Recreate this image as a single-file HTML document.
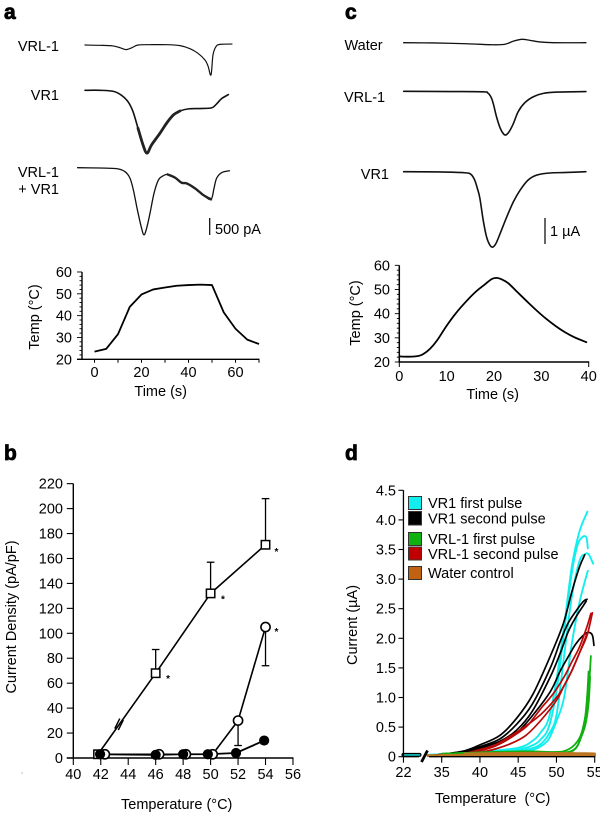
<!DOCTYPE html>
<html lang="en">
<head>
<meta charset="utf-8">
<title>VRL-1 and VR1 heat-evoked currents</title>
<style>
html,body{margin:0;padding:0;background:#fff;}
body{width:600px;height:816px;overflow:hidden;position:relative;}
svg{position:absolute;left:0;top:0;display:block;}
text{font-family:"Liberation Sans",Arial,sans-serif;font-size:14.5px;fill:#000;}
.letter{font-size:21px;font-weight:bold;stroke:#000;stroke-width:.8px;fill:#000;}
</style>
</head>
<body>
<svg id="figure" width="600" height="816" viewBox="0 0 600 816" xmlns="http://www.w3.org/2000/svg">
  <text class="letter" x="4" y="19">a</text>
  <text class="letter" x="345" y="19">c</text>
  <text class="letter" x="4" y="460">b</text>
  <text class="letter" x="345" y="460">d</text>

  <text x="59" y="51" text-anchor="end">VRL-1</text>
  <text x="59" y="100" text-anchor="end">VR1</text>
  <text x="59" y="177" text-anchor="end">VRL-1</text>
  <text x="59" y="194" text-anchor="end">+ VR1</text>
  <line x1="209.7" x2="209.7" y1="218" y2="235" stroke="#000" stroke-width="1.2"/>
  <text x="215" y="234">500 pA</text>

  <text x="344.5" y="50">Water</text>
  <text x="344" y="102">VRL-1</text>
  <text x="389" y="179" text-anchor="end">VR1</text>
  <line x1="545" x2="545" y1="218" y2="244" stroke="#000" stroke-width="1.2"/>
  <text x="550" y="236">1 µA</text>

  <text transform="translate(39,317) rotate(-90)" text-anchor="middle">Temp (°C)</text>
  <text x="160.7" y="396" text-anchor="middle">Time (s)</text>
  <text transform="translate(360,313) rotate(-90)" text-anchor="middle">Temp (°C)</text>
  <text x="492.7" y="399" text-anchor="middle">Time (s)</text>
  <text transform="translate(16,617) rotate(-90)" text-anchor="middle">Current Density (pA/pF)</text>
  <text x="176.7" y="809" text-anchor="middle">Temperature (°C)</text>
  <text transform="translate(357,625) rotate(-90)" text-anchor="middle">Current (µA)</text>
  <text x="492.7" y="803" text-anchor="middle" xml:space="preserve">Temperature  (°C)</text>
  <rect x="21.5" y="772.5" width="1.2" height="1" fill="#999"/>

  <g>
    <rect x="408.5" y="496.5" width="13" height="13" fill="#12eeee" stroke="#333"/>
    <rect x="408.5" y="511.5" width="13" height="13.5" fill="#000" stroke="#333"/>
    <rect x="408.5" y="532.5" width="13" height="13" fill="#10b010" stroke="#333"/>
    <rect x="408.5" y="547" width="13" height="13" fill="#c00000" stroke="#333"/>
    <rect x="408.5" y="566.5" width="13" height="13" fill="#c0620f" stroke="#333"/>
    <text x="428" y="508">VR1 first pulse</text>
    <text x="428" y="523.5">VR1 second pulse</text>
    <text x="428" y="544">VRL-1 first pulse</text>
    <text x="428" y="559">VRL-1 second pulse</text>
    <text x="428" y="578">Water control</text>
  </g>
</svg>
<script>
// ---------- Panel a: whole-cell traces [time s, current pA]
const aTraceVrl1 = [[0,0],[7.5,-10],[14,-30],[17.5,-85],[20.5,-145],[23.5,-85],[26.5,0],[32.5,10],[41,10],[47.5,-20],[52.5,-115],[56.5,-260],[60,-470],[61.5,-655],[63,-935],[64,-310],[65.5,-50],[67.5,20],[73.5,30]];
const aTraceVr1 = [[0,0],[7.5,0],[14,-30],[18,-145],[21.5,-355],[24,-665],[26.5,-1185],[29,-1705],[31,-1965],[33.3,-1705],[37.5,-1340],[41,-1010],[44.2,-770],[47.5,-645],[51.7,-580],[57.5,-570],[63.3,-550],[65.8,-425],[68.3,-260],[71.7,-135]];
const aTraceBoth = [[-3.7,0],[7.5,-10],[15.8,-30],[20,-125],[22.5,-330],[24.2,-700],[26.2,-1320],[28.3,-1895],[29.5,-2100],[30.8,-1895],[32.5,-1425],[34.5,-800],[36.7,-385],[39.2,-250],[41.3,-210],[45,-310],[48.3,-470],[50.8,-490],[55,-645],[59.2,-855],[63,-990],[64.5,-645],[65.8,-330],[68.3,-155],[72.2,-95]];
// Panel a: temperature ramp
const aTempTime = [0,5,10,15,20,25,30,35,40,45,50,55,60,65,70];
const aTempValues = [23.5,24.8,31.5,44,49.7,52,52.9,53.7,54,54.2,54,41.5,34,29,27];
const aTempXTicks = [0,20,40,60];
const aTempYTicks = [20,30,40,50,60];

// ---------- Panel c: oocyte traces [time s, current uA]
const cTraceWater = [[0,0],[6.3,-0.01],[13.3,-0.04],[19,-0.08],[21.4,-0.06],[23.2,0.06],[25,0.13],[26.7,0.09],[28.8,0.03],[31.6,0],[38.5,0]];
const cTraceVrl1 = [[0,0],[9.8,-0.01],[16.8,-0.02],[17.8,-0.07],[18.5,-0.24],[19,-0.52],[19.6,-0.97],[20.4,-1.42],[21.1,-1.64],[21.6,-1.68],[22.3,-1.55],[23.2,-1.23],[24.2,-0.78],[25.6,-0.44],[27.4,-0.21],[29.5,-0.08],[32.4,-0.03],[38.5,-0.01]];
const cTraceVr1 = [[0,0],[7.7,-0.01],[12.8,-0.04],[14.2,-0.1],[15,-0.32],[15.6,-0.66],[16.1,-1.02],[16.8,-1.86],[17.5,-2.5],[18.2,-2.82],[18.8,-2.9],[19.5,-2.76],[20.4,-2.37],[21.8,-1.73],[23.2,-1.15],[24.6,-0.71],[26.3,-0.32],[28.1,-0.13],[30.9,-0.05],[34.4,-0.03],[38.5,0]];
// Panel c: temperature ramp
const cTempTime = [0,2,4,5,6.5,8,10,12,14,16,18,19.5,20.5,21.5,23,25,27,29,31,33,35,37,39.5];
const cTempValues = [22.3,22.2,22.5,23.2,25.5,29,35,40.3,44.8,48.8,52,54.3,54.8,54.3,52.6,48.8,45,41.3,37.9,34.9,32.3,30.2,28.2];
const cTempXTicks = [0,10,20,30,40];
const cTempYTicks = [20,30,40,50,60];

// ---------- Panel b: current density
const bXTicks = [40,42,44,46,48,50,52,54,56];
const bYTicks = [0,20,40,60,80,100,120,140,160,180,200,220];
const squareTemps = [41.8,46,50,54];
const squareValues = [3,68,132,171];
const squareErrorTops = [3,87,157,208];
const openTemps = [42.3,46.25,48.2,50.15,52,54];
const openValues = [3,3,3,3,30,105];
const openErrorBottoms = [3,3,3,3,10,74];
const filledTemps = [41.95,46,48,49.8,51.85,53.9];
const filledValues = [3,2.5,3,3,4,14];
const starTemps = [46.9,50.9,54.8,54.8];
const starValues = [64,128,166,102];

// ---------- Panel d: current vs temperature [temp C, current uA]
const dXTickValues = [30,35,40,45,50,55];
const dXTickLabels = ['22','35','40','45','50','55'];
const dYTicks = [0,0.5,1,1.5,2,2.5,3,3.5,4,4.5];
const dYTickLabels = ['0','0.5','1.0','1.5','2.0','2.5','3.0','3.5','4.0','4.5'];
const vr1First1 = [[33.2,.03],[35,.04],[40,.08],[45,.15],[47,.28],[48,.42],[49,.65],[50,1.3],[51,2.2],[52,3.2],[53,3.8],[54.05,4.14]];
const vr1First2 = [[33.2,.03],[35,.04],[40,.07],[45,.12],[47,.2],[48,.3],[49,.5],[50,1.1],[51,2.1],[52,3.1],[52.7,3.55],[53.3,3.7],[53.9,3.71],[54.1,3.52]];
const vr1First3 = [[33.2,.03],[35,.04],[40,.06],[45,.1],[47,.15],[48,.22],[49,.38],[50,.7],[51,1.7],[52,2.7],[53,3.3],[53.7,3.42],[54.2,3.42],[54.8,3.26]];
const vr1First4 = [[33.2,.03],[35,.03],[40,.05],[45,.08],[47,.12],[48,.18],[49,.3],[50,.6],[51,1],[52,1.9],[53,2.6],[54.1,3.14]];
const vr1Second1 = [[33.2,.01],[35,.04],[38,.1],[40,.2],[42.6,.36],[44.8,.65],[46.9,1.05],[49.2,1.7],[50.9,2.25],[52,2.78],[53,3.2],[53.7,3.41]];
const vr1Second2 = [[33.2,.01],[35,.04],[38,.09],[40,.17],[42.6,.3],[44.8,.55],[46.9,.9],[49.2,1.5],[50.5,1.95],[51.5,2.25],[52.5,2.45],[53.5,2.62],[54,2.66]];
const vr1Second3 = [[33.2,.01],[35,.04],[38,.08],[40,.15],[42.6,.26],[44.8,.45],[46.9,.78],[49.2,1.35],[50.5,1.75],[51.5,2.1],[52.5,2.35],[53.5,2.55],[53.9,2.63]];
const vr1Second4 = [[33.2,.01],[35,.03],[38,.07],[40,.13],[42.6,.22],[44.8,.4],[46.9,.7],[49.2,1.1],[50.5,1.45],[51.5,1.68],[52.5,1.9],[53.5,2.05],[54.2,2.1],[54.7,2.05],[54.9,1.88]];
const vrl1Second1 = [[38,.05],[40,.12],[42,.2],[44,.35],[46,.52],[48,.72],[50,1],[51,1.2],[52,1.45],[53,1.75],[54,2.05],[54.7,2.43]];
const vrl1Second2 = [[38,.05],[40,.1],[42,.18],[44,.32],[46,.5],[47,.65],[48,.82],[49.5,1.05],[51,1.35],[52,1.6],[53,1.85],[54,2.2],[54.5,2.42]];
const vrl1Second3 = [[38,.03],[40,.07],[42,.13],[44,.22],[46,.36],[48,.62],[50,.95],[51,1.2],[52,1.45],[53,1.75],[54,2.08]];
const vrl1First1 = [[35,.05],[45,.09],[50,.08],[51.5,.12],[52.5,.22],[53.2,.37],[53.8,.7],[54.2,1.1],[54.5,1.7]];
const vrl1First2 = [[35,.05],[45,.08],[50,.06],[52,.1],[52.8,.2],[53.3,.37],[53.7,.6],[54,1],[54.2,1.44]];
const vrl1First3 = [[35,.05],[45,.08],[51,.07],[52.5,.14],[53.2,.32],[53.8,.55],[54.2,.9],[54.4,1.35]];
const water1 = [[33.2,.02],[40,.03],[48,.03],[55,.02]];
const water2 = [[38,.05],[48,.06],[55,.05]];
const preBreakBlack = [[30,.03],[32.1,.03]];
const preBreakCyan = [[30,.03],[32.1,.03]];

// ---------- Axis functions
const aTraceX = t => 85 + t * 2;
const aTraceY = (base, pA) => base - pA * 16 / 500;
const cTraceX = t => 403.67 + t * 4.733;
const cTraceY = (base, uA) => base - uA * 26;
const aTempX = t => 94.5 + t * 2.35;
const aTempY = v => 359.3 - (v - 20) * 2.183;
const cTempX = t => 399.3 + t * 4.735;
const cTempY = v => 362 - (v - 20) * 2.417;
const bX = t => 73.3 + (t - 40) * 13.73;
const bY = v => 758 - v * 1.247;
const dX = t => 441.7 + (t - 35) * 7.65;
const dY = v => 756.7 - v * 59.2;

const root = document.getElementById('figure');
const NS = 'http://www.w3.org/2000/svg';
function mk(tag, props, parent) {
  const el = document.createElementNS(NS, tag);
  for (const k in props) el.setAttribute(k, props[k]);
  (parent || root).appendChild(el);
  return el;
}
function smooth(pts) {
  let d = 'M' + pts[0][0].toFixed(2) + ' ' + pts[0][1].toFixed(2);
  for (let i = 0; i < pts.length - 1; i++) {
    const p0 = pts[Math.max(i - 1, 0)], p1 = pts[i], p2 = pts[i + 1], p3 = pts[Math.min(i + 2, pts.length - 1)];
    const c1x = p1[0] + (p2[0] - p0[0]) / 6, c1y = p1[1] + (p2[1] - p0[1]) / 6;
    const c2x = p2[0] - (p3[0] - p1[0]) / 6, c2y = p2[1] - (p3[1] - p1[1]) / 6;
    d += 'C' + c1x.toFixed(2) + ' ' + c1y.toFixed(2) + ' ' + c2x.toFixed(2) + ' ' + c2y.toFixed(2) + ' ' + p2[0].toFixed(2) + ' ' + p2[1].toFixed(2);
  }
  return d;
}
function curve(data, fx, fy, color, width, parent) {
  return mk('path', {d: smooth(data.map(p => [fx(p[0]), fy(p[1])])), fill: 'none', stroke: color, 'stroke-width': width, 'stroke-linejoin': 'round', 'stroke-linecap': 'round'}, parent);
}
function poly(xs, ys, fx, fy, color, width, parent) {
  const pts = xs.map((x, i) => fx(x).toFixed(2) + ',' + fy(ys[i]).toFixed(2)).join(' ');
  return mk('polyline', {points: pts, fill: 'none', stroke: color, 'stroke-width': width, 'stroke-linejoin': 'round'}, parent);
}
function seg(x1, y1, x2, y2, width, parent) {
  return mk('line', {x1: x1, y1: y1, x2: x2, y2: y2, stroke: '#000', 'stroke-width': width}, parent);
}
function label(x, y, anchor, str, parent) {
  const t = mk('text', {x: x, y: y, 'text-anchor': anchor}, parent);
  t.textContent = str;
  return t;
}

// ---------- Panel a
const traceA1 = curve(aTraceVrl1, aTraceX, v => aTraceY(45, v), '#111', 1.2);


const traceA2 = curve(aTraceVr1, aTraceX, v => aTraceY(90.3, v), '#111', 1.6);


const traceA2Noise = curve(aTraceVr1.slice(6, 14), aTraceX, v => aTraceY(90.3, v), '#222', 2.8);


const traceA3 = curve(aTraceBoth, aTraceX, v => aTraceY(167.7, v), '#111', 1.3);


const traceA3Noise = curve(aTraceBoth.slice(14, 21), aTraceX, v => aTraceY(167.7, v), '#222', 2.4);



const aAxes = mk('g', {});


const aYLine = seg(82, aTempY(60), 82, aTempY(20) + .6, 1.4, aAxes);


const aXLine = seg(77, aTempY(20), aTempX(70) + .5, aTempY(20), 1.4, aAxes);


for (let v = 20; v <= 60; v += 2) {
  const tk = seg(v % 10 === 0 ? 77 : 79.5, aTempY(v), 82, aTempY(v), .9, aAxes);
  
  
}
for (let t = 0; t <= 70; t += 10) {
  const tk = seg(aTempX(t), aTempY(20), aTempX(t), aTempY(20) + 3.5, 1, aAxes);
  
  
}
aTempYTicks.forEach(v => {
  const l = label(72, aTempY(v) + 5, 'end', String(v), aAxes);
  
  
});
aTempXTicks.forEach(t => {
  const l = label(aTempX(t), 377, 'middle', String(t), aAxes);
  
  
});
const aTempLine = poly(aTempTime, aTempValues, aTempX, aTempY, '#000', 1.8);



// ---------- Panel c
const traceC1 = curve(cTraceWater, cTraceX, v => cTraceY(42.7, v), '#111', 1.3);


const traceC2 = curve(cTraceVrl1, cTraceX, v => cTraceY(91.3, v), '#111', 1.6);


const traceC3 = curve(cTraceVr1, cTraceX, v => cTraceY(171.7, v), '#111', 1.6);



const cAxes = mk('g', {});


const cYLine = seg(cTempX(0), cTempY(60), cTempX(0), cTempY(20) + .7, 1.5, cAxes);


const cXLine = seg(cTempX(0) - .7, cTempY(20), cTempX(40) + .5, cTempY(20), 1.5, cAxes);


for (let v = 20; v <= 60; v += 2) {
  const tk = seg(cTempX(0) - (v % 10 === 0 ? 4.5 : 2.5), cTempY(v), cTempX(0), cTempY(v), .9, cAxes);
  
  
}
[0, 40].forEach(t => {
  const tk = seg(cTempX(t), cTempY(20), cTempX(t), cTempY(20) + 5, 1, cAxes);
  
  
});
cTempYTicks.forEach(v => {
  const l = label(390, cTempY(v) + 5, 'end', String(v), cAxes);
  
  
});
cTempXTicks.forEach(t => {
  const l = label(cTempX(t), 381, 'middle', String(t), cAxes);
  
  
});
const cTempLine = curve(cTempTime.map((t, i) => [t, cTempValues[i]]), cTempX, cTempY, '#000', 1.8);



// ---------- Panel b
const bAxes = mk('g', {});


const bYLine = seg(bX(40), bY(220), bX(40), bY(0) + .7, 1.4, bAxes);


const bXLine = seg(bX(40) - 6.5, bY(0), bX(56) + .5, bY(0), 1.4, bAxes);


bYTicks.forEach(v => {
  const tk = seg(bX(40) - 6.5, bY(v), bX(40), bY(v), 1.1, bAxes);
  
  
  const l = label(63, bY(v) + 5, 'end', String(v), bAxes);
  
  
});
bXTicks.forEach(t => {
  const tk = seg(bX(t), bY(0), bX(t), bY(0) + 7, 1.1, bAxes);
  
  
  const l = label(bX(t), 779, 'middle', String(t), bAxes);
  
  
});

const squareLine = poly(squareTemps, squareValues, bX, bY, '#000', 1.6);


const openLine = poly(openTemps, openValues, bX, bY, '#000', 1.6);


const filledLine = poly(filledTemps, filledValues, bX, bY, '#000', 1.8);



const breakBase = [bX(43.35), bY(28)];
const brk1 = seg(breakBase[0] - 4.5, breakBase[1] + 5.5, breakBase[0] + .5, breakBase[1] - 4.5, 1.5);


const brk2 = seg(breakBase[0] - 1, breakBase[1] + 7, breakBase[0] + 4, breakBase[1] - 3, 1.5);



squareTemps.forEach((t, i) => {
  if (squareErrorTops[i] > squareValues[i]) {
    const e = seg(bX(t), bY(squareValues[i]), bX(t), bY(squareErrorTops[i]), 1.3);
    
    
    const c = seg(bX(t) - 3.8, bY(squareErrorTops[i]), bX(t) + 3.8, bY(squareErrorTops[i]), 1.3);
    
    
  }
  const s = mk('rect', {x: bX(t) - 4.2, y: bY(squareValues[i]) - 4.2, width: 8.4, height: 8.4, fill: '#fff', stroke: '#000', 'stroke-width': 1.5});
  
  
});
openTemps.forEach((t, i) => {
  if (openErrorBottoms[i] < openValues[i]) {
    const e = seg(bX(t), bY(openValues[i]), bX(t), bY(openErrorBottoms[i]), 1.3);
    
    
    const c = seg(bX(t) - 3.8, bY(openErrorBottoms[i]), bX(t) + 3.8, bY(openErrorBottoms[i]), 1.3);
    
    
  }
  const o = mk('circle', {cx: bX(t), cy: bY(openValues[i]), r: 4.6, fill: '#fff', stroke: '#000', 'stroke-width': 1.6});
  
  
});
filledTemps.forEach((t, i) => {
  const f = mk('circle', {cx: bX(t), cy: bY(filledValues[i]), r: 5.1, fill: '#000'});
  
  
});
starTemps.forEach((t, i) => {
  const st = mk('text', {x: bX(t), y: bY(starValues[i]) + 4, 'text-anchor': 'middle', style: 'font-size:10px;font-weight:bold'});
  st.textContent = '*';
  
  
});

// ---------- Panel d
const CYAN = '#12eeee', BLACK = '#000', RED = '#b80808', GREEN = '#10b010', BROWN = '#bd7420';
const cyanGroup = mk('g', {});


[vr1First1, vr1First2, vr1First3, vr1First4].forEach(arr => {
  const c = curve(arr, dX, dY, CYAN, 1.9, cyanGroup);
  
  
});
const blackGroup = mk('g', {});


[vr1Second1, vr1Second2, vr1Second3, vr1Second4].forEach(arr => {
  const c = curve(arr, dX, dY, BLACK, 1.7, blackGroup);
  
  
});
const redGroup = mk('g', {});


[vrl1Second1, vrl1Second2, vrl1Second3].forEach(arr => {
  const c = curve(arr, dX, dY, RED, 1.7, redGroup);
  
  
});
const greenGroup = mk('g', {});


[vrl1First1, vrl1First2, vrl1First3].forEach(arr => {
  const c = curve(arr, dX, dY, GREEN, 1.8, greenGroup);
  
  
});
const waterGroup = mk('g', {});


[water1, water2].forEach(arr => {
  const c = curve(arr, dX, dY, BROWN, 2.6, waterGroup);
  
  
});
const stubBlack = curve(preBreakBlack, dX, dY, BLACK, 4);


const stubCyan = curve(preBreakCyan, dX, dY, '#10c8c8', 1.6);



const dAxes = mk('g', {});


const dYLine = seg(dX(30), dY(4.5), dX(30), dY(0) + .7, 1.3, dAxes);


const dXLine1 = seg(dX(30), dY(0), 419, dY(0), 1.3, dAxes);


const dXLine2 = seg(429, dY(0), dX(55) + .5, dY(0), 1.3, dAxes);


const dBreak = seg(421.5, 762, 427.5, 750.5, 2.8, dAxes);


dYTicks.forEach((v, i) => {
  const tk = seg(dX(30) - 5, dY(v), dX(30), dY(v), 1.1, dAxes);
  
  
  const l = label(396, dY(v) + 5, 'end', dYTickLabels[i], dAxes);
  
  
});
dXTickValues.forEach((t, i) => {
  const tk = seg(dX(t), dY(0), dX(t), dY(0) + 6, 1.1, dAxes);
  
  
  const l = label(dX(t), 777, 'middle', dXTickLabels[i], dAxes);
  
  
});
</script>
</body>
</html>
